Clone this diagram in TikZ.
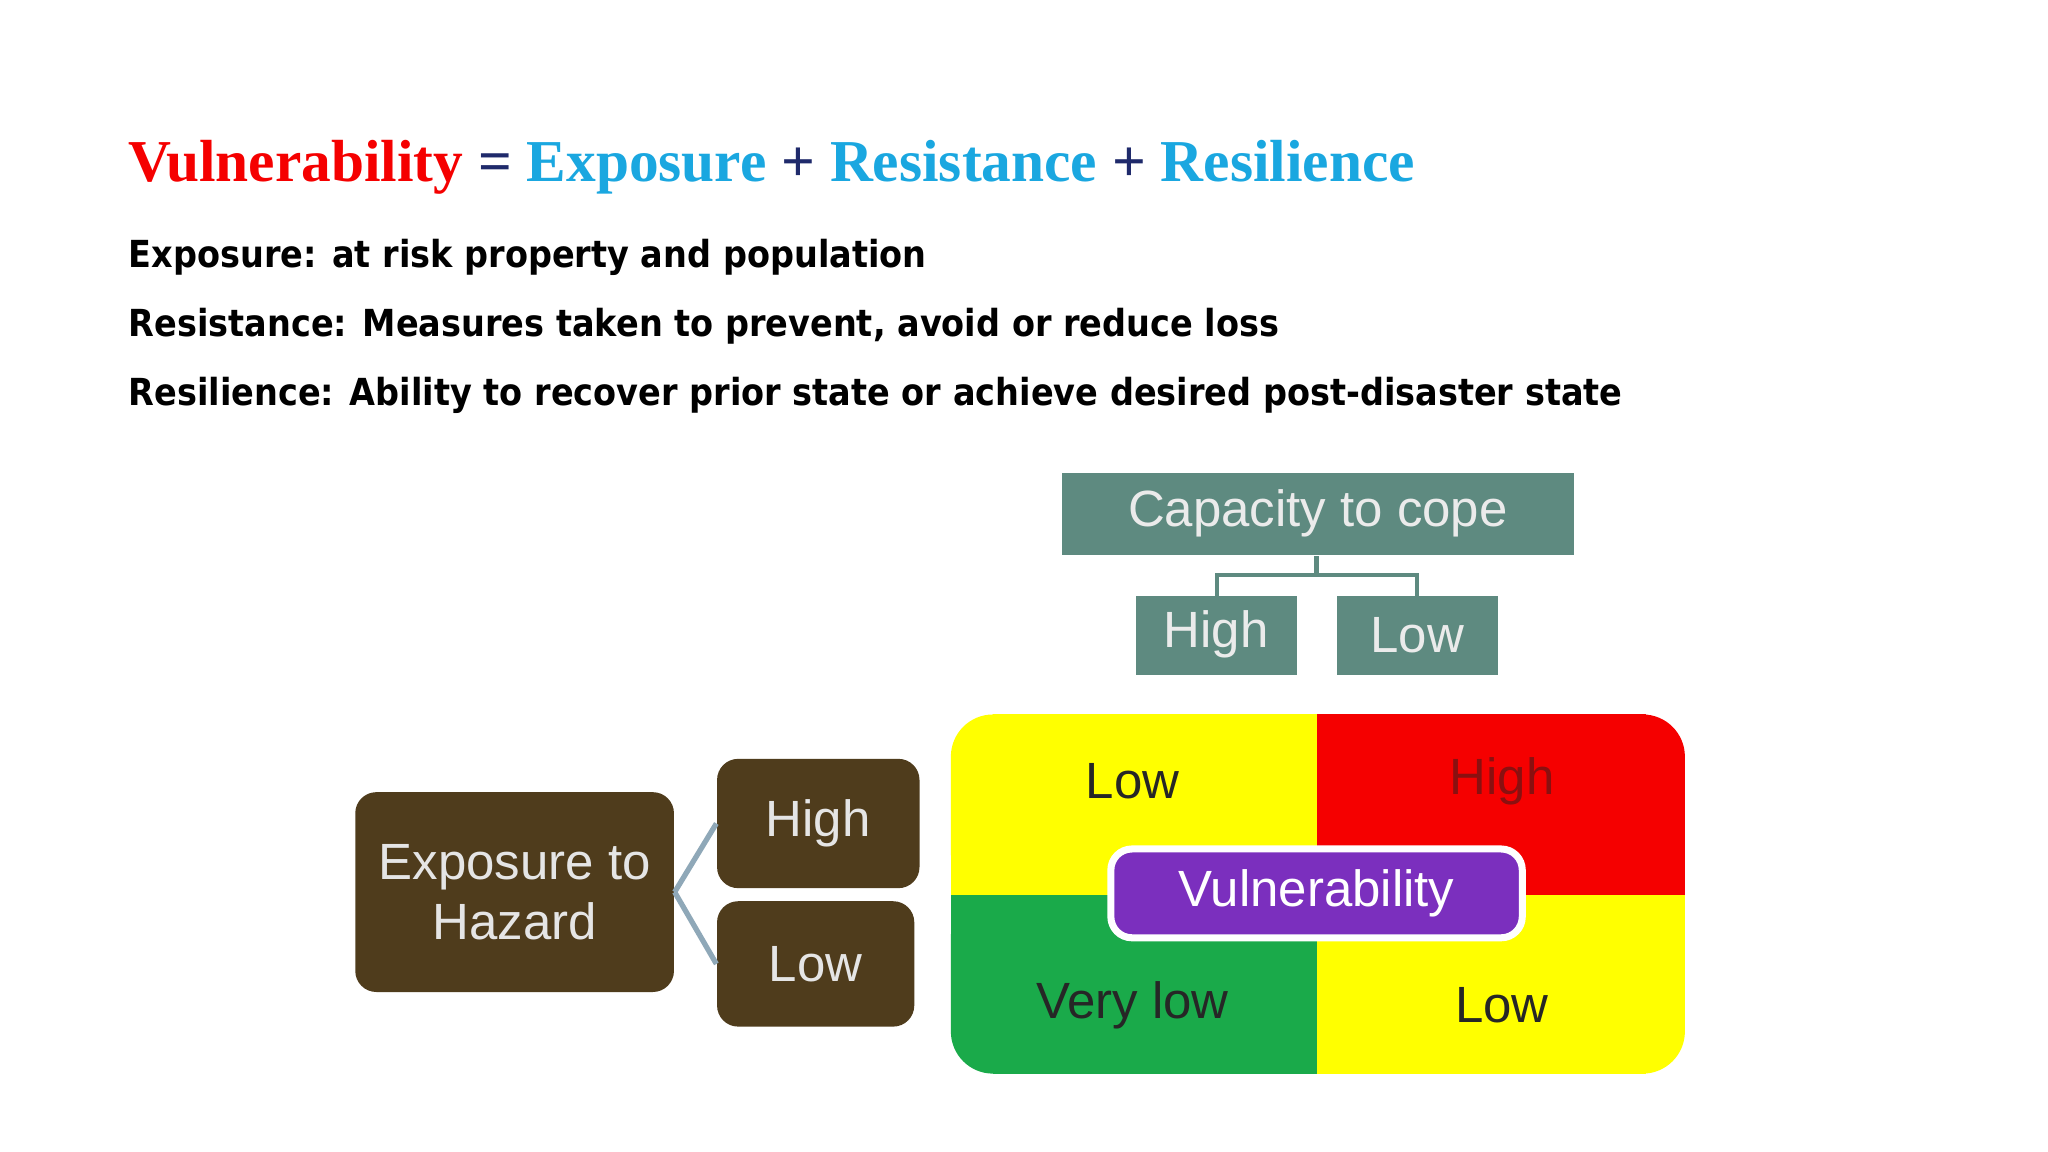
\documentclass[tikz,border=0pt]{standalone}
\usepackage{fontspec}
\setmainfont{Liberation Serif}
\setsansfont{Liberation Sans}
\newfontfamily\bodyfont[FakeStretch=0.9]{DejaVu Sans}
\definecolor{teal1}{HTML}{5E8A80}
\definecolor{brown1}{HTML}{4F3C1C}
\definecolor{cyan1}{HTML}{1AA7E0}
\definecolor{navy1}{HTML}{1F2A6B}
\definecolor{yel}{HTML}{FFFF00}
\definecolor{red1}{HTML}{F50000}
\definecolor{grn}{HTML}{1AAA4A}
\definecolor{purp}{HTML}{7B2FBE}
\definecolor{dred}{HTML}{8A1010}
\definecolor{lnk}{HTML}{8FA8B8}
\begin{document}
\begin{tikzpicture}[x=0.013061cm,y=-0.013061cm,
  tealbox/.style={fill=teal1,text=white!92!black,font=\sffamily\fontsize{14.5}{15}\selectfont,inner sep=0},
  brownbox/.style={fill=brown1,rounded corners=6,text=white!90!black,font=\sffamily\fontsize{14.5}{17}\selectfont,align=center},
  cell/.style={font=\sffamily\fontsize{14.5}{15}\selectfont,text=black!85},
  bodyline/.style={anchor=west,font=\bodyfont\bfseries\fontsize{10.6}{12}\selectfont,inner sep=0}]
\useasboundingbox (0,0) rectangle (1568,882);
\fill[white] (0,0) rectangle (1568,882);
\node[anchor=west,inner sep=0,font=\bfseries\fontsize{16.9}{18}\selectfont] (title) at (98,128)
 {\textcolor{red1}{Vulnerability} \textcolor{navy1}{=} \textcolor{cyan1}{Exposure} \textcolor{navy1}{+} \textcolor{cyan1}{Resistance} \textcolor{navy1}{+} \textcolor{cyan1}{Resilience}};
\node[bodyline] (l1) at (98,197) {Exposure: at risk property and population};
\node[bodyline] (l2) at (98,250) {Resistance: Measures taken to prevent, avoid or reduce loss};
\node[bodyline] (l3) at (98,303) {Resilience: Ability to recover prior state or achieve desired post-disaster state};
% capacity
\path[fill=teal1] (813,362) rectangle (1205,425);
\node[tealbox] (cap) at (1009,393) {Capacity to cope};
\path[fill=teal1] (870,456) rectangle (993,517);
\node[tealbox] (ch) at (931,486) {High};
\path[fill=teal1] (1024,456) rectangle (1147,517);
\node[tealbox] (cl) at (1085,486) {Low};
\coordinate (b0) at (1008,426);
\draw[teal1,line width=1.2] (b0) -- (1008,440) (932,456) |- (1008,440) -| (1085,456);
% matrix
\fill[yel,rounded corners=12] (728,685) |- (1008,547) -- (1008,685) -- cycle;
\fill[red1,rounded corners=12] (1008,685) |- (1290,547) -- (1290,685) -- cycle;
\fill[grn,rounded corners=12] (728,685) |- (1008,822) -- (1008,685) -- cycle;
\fill[yel,rounded corners=12] (1008,685) |- (1290,822) -- (1290,685) -- cycle;
\fill[yel] (728,600) rectangle (1008,685);\fill[yel] (760,547) rectangle (1008,685);
\fill[red1] (1008,600) rectangle (1290,685);\fill[red1] (1008,547) rectangle (1260,685);
\fill[grn] (728,685) rectangle (1008,790);\fill[grn] (760,685) rectangle (1008,822);
\fill[yel] (1008,685) rectangle (1290,790);\fill[yel] (1008,685) rectangle (1260,822);
\node[cell] (m1) at (867,598) {Low};
\node[cell,text=dred] (m2) at (1150,598) {High};
\node[cell] (m3) at (867,770) {Very low};
\node[cell] (m4) at (1150,770) {Low};
\node[fill=purp,draw=white,line width=2,rounded corners=6,minimum width=315*0.013061cm,minimum height=68*0.013061cm,text=white,font=\sffamily\fontsize{14.5}{15}\selectfont] (vul) at (1008,684) {Vulnerability};
% exposure
\node[brownbox,minimum width=244*0.013061cm,minimum height=153*0.013061cm] (exp) at (394,683) {Exposure to\\Hazard};
\node[brownbox,minimum width=155*0.013061cm,minimum height=99*0.013061cm] (eh) at (626.5,630.5) {High};
\node[brownbox,minimum width=151*0.013061cm,minimum height=96*0.013061cm] (el) at (624.5,738) {Low};
\draw[lnk,line width=1.5] (exp.east) -- (eh.west) (exp.east) -- (el.west);
\end{tikzpicture}
\end{document}
